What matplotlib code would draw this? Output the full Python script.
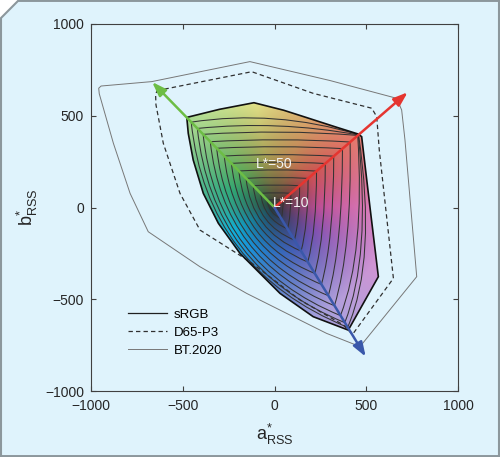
import numpy as np
import matplotlib.pyplot as plt
from matplotlib.path import Path
from matplotlib.patches import PathPatch, Polygon, FancyArrowPatch
from matplotlib.lines import Line2D
from matplotlib.colors import to_rgb

plt.rcParams['font.family'] = ['Liberation Sans', 'DejaVu Sans']
plt.rcParams['mathtext.fontset'] = 'custom'
plt.rcParams['mathtext.rm'] = 'Liberation Sans'
plt.rcParams['mathtext.it'] = 'Liberation Sans'
plt.rcParams['mathtext.default'] = 'regular'

# primaries: direction of each axis (deg) and arrow tips (a*, b*)
prim_angle = {'G': 134.3, 'R': 40.9, 'B': -58.6}
arrow_tip = {'G': (-667, 684), 'R': (726, 628), 'B': (497, -813)}
arrow_color = {'G': '#6dbd45', 'R': '#e53530', 'B': '#3a58aa'}

# sRGB lightness contours: corner radius along each primary
r_G = [57, 108, 166, 222, 278, 336, 392, 451, 501, 557, 602, 650]
r_R = [62, 118, 181, 242, 303, 366, 427, 490, 545, 600, 604, 606]
r_B = [71, 136, 208, 278, 348, 421, 491, 563, 627, 690, 735, 765]
top_bump = [4, 6, 8, 10, 12, 14, 16, 18, 22, 28, 45, 70]
right_bulge = [0, 0, 0, 0, 0, 0, 0, 0, 10, 40, 70, 100]

# gamut outlines
srgb_a = [-478, -300, -112, 50, 175, 330, 457, 475, 520, 566, 402, 211, 30, -188, -306, -388, -443, -470]
srgb_b = [491, 535, 571, 530, 490, 440, 400, 386, 4, -377, -668, -595, -468, -250, -86, 77, 259, 404]
p3_a = [-640, -124, 211, 530, 557, 571, 648, 425, 375, 139, -134, -406, -515, -606, -646, -648]
p3_b = [637, 740, 622, 541, 495, 313, -386, -692, -640, -504, -295, -123, 77, 350, 560, 615]
bt_a = [-945, -669, -134, 302, 666, 693, 711, 775, 466, 284, -152, -406, -688, -787, -878, -955, -958]
bt_b = [662, 686, 795, 692, 595, 531, 368, -377, -758, -686, -468, -323, -132, 77, 350, 620, 650]

ticks = [-1000, -500, 0, 500, 1000]

# surface colour: hue by angle, darker toward the centre
hue_ang = [-180, -150, -120, -90, -59, -30, 0, 41, 70, 100, 134, 160, 180]
mid_col = ['#30a890', '#10b0d8', '#1a90d8', '#3070c0', '#4858b0', '#8050b0', '#c05098',
           '#c85050', '#b88050', '#a09850', '#58a858', '#30a878', '#30a890']
out_col = ['#70c8b0', '#40c8f0', '#60b8e8', '#8098d8', '#b0a0dc', '#d094d4', '#e48cc4',
           '#e88070', '#e8b878', '#ecec90', '#a8d890', '#80cca0', '#70c8b0']
dark = np.array(to_rgb('#283030'))
r_mid, r_out = 250, 620

bg = '#dff3fc'

fig = plt.figure(figsize=(5, 4.57), dpi=100)
fig.patch.set_facecolor('white')
frame = Polygon([(0.002, 0.9606), (0.036, 0.998), (0.998, 0.998), (0.998, 0.002), (0.002, 0.002)],
                closed=True, transform=fig.transFigure, facecolor=bg, edgecolor='#8c979c',
                lw=1.5, zorder=-1)
fig.add_artist(frame)

ax = fig.add_axes([0.182, 0.1444, 0.734, 0.8031])
ax.set_facecolor('none')


def corner(name, r):
    t = np.deg2rad(prim_angle[name])
    return np.array([r * np.cos(t), r * np.sin(t)])


# coloured surface clipped to the sRGB outline
ga = np.linspace(-700, 700, 500)
gb = np.linspace(-800, 700, 540)
A, B = np.meshgrid(ga, gb)
th = np.degrees(np.arctan2(B, A))
rr = np.hypot(A, B)
img = np.zeros(A.shape + (3,))
mid_rgb = np.array([to_rgb(c) for c in mid_col])
out_rgb = np.array([to_rgb(c) for c in out_col])
for ch in range(3):
    m = np.interp(th, hue_ang, mid_rgb[:, ch])
    o = np.interp(th, hue_ang, out_rgb[:, ch])
    inner = dark[ch] + (m - dark[ch]) * np.clip(rr / r_mid, 0, 1) ** 0.8
    outer = m + (o - m) * np.clip((rr - r_mid) / (r_out - r_mid), 0, 1)
    img[..., ch] = np.where(rr < r_mid, inner, outer)
outline = Polygon(np.column_stack([srgb_a, srgb_b]), closed=True, facecolor='none',
                  edgecolor='#111111', lw=1.2, zorder=4)
ax.add_patch(outline)
im = ax.imshow(img, extent=[-700, 700, -800, 700], origin='lower', interpolation='bilinear',
               aspect='auto', zorder=1)
im.set_clip_path(outline)

# lightness contours
for k in range(len(r_G)):
    G = corner('G', r_G[k])
    R = corner('R', r_R[k])
    Bc = corner('B', r_B[k])
    c_top = ((G[0] + R[0]) / 2, max(G[1], R[1]) + top_bump[k])
    c_right = (R[0] + right_bulge[k], Bc[1] + 0.35 * (R[1] - Bc[1]))
    c_left = (G[0] + 0.1 * (Bc[0] - G[0]), Bc[1] + 0.28 * (G[1] - Bc[1]))
    verts = [G, c_top, R, c_right, Bc, c_left, G]
    codes = [Path.MOVETO] + [Path.CURVE3] * 6
    ax.add_patch(PathPatch(Path(verts, codes), facecolor='none', edgecolor='#333333',
                           lw=0.75, zorder=3))

# other gamuts
ax.add_patch(Polygon(np.column_stack([p3_a, p3_b]), closed=True, facecolor='none',
                     edgecolor='#303030', lw=0.9, ls=(0, (3.5, 2.5)), zorder=2))
ax.add_patch(Polygon(np.column_stack([bt_a, bt_b]), closed=True, facecolor='none',
                     edgecolor='#777777', lw=0.7, zorder=2))

# primary arrows
for name in ['G', 'R', 'B']:
    ax.add_patch(FancyArrowPatch((0, 0), arrow_tip[name],
                                 arrowstyle='-|>,head_length=8.5,head_width=3',
                                 color=arrow_color[name], lw=1.8, shrinkA=0, shrinkB=0,
                                 zorder=5))

ax.text(-3, 237, 'L*=50', color='#f4f4f4', ha='center', va='center', fontsize=10, zorder=6)
ax.text(93, 25, 'L*=10', color='#f4f4f4', ha='center', va='center', fontsize=10, zorder=6)

handles = [Line2D([], [], color='#202020', lw=0.9),
           Line2D([], [], color='#303030', lw=0.9, ls=(0, (3.5, 2.5))),
           Line2D([], [], color='#777777', lw=0.7)]
ax.legend(handles, ['sRGB', 'D65-P3', 'BT.2020'], loc='upper left',
          bbox_to_anchor=(0.1, 0.225), frameon=False, fontsize=9.5, borderpad=0,
          borderaxespad=0, handlelength=3.0, handletextpad=0.5, labelspacing=0.45)

ax.set_xlim(-1000, 1000)
ax.set_ylim(-1000, 1000)
ax.set_xticks(ticks)
ax.set_yticks(ticks)
ax.tick_params(direction='in', length=3.5, width=0.8, color='#404040', top=True, right=True,
               labelsize=10, labelcolor='#262626')
ax.tick_params(axis='x', pad=6)
ax.tick_params(axis='y', pad=5)
for sp in ax.spines.values():
    sp.set_color('#404040')
    sp.set_linewidth(0.8)

ax.text(0.5, -0.117, r'$a^{*}_{RSS}$', transform=ax.transAxes, ha='center', va='center',
        fontsize=13, color='#262626')
ax.text(-0.174, 0.5, r'$b^{*}_{RSS}$', transform=ax.transAxes, ha='center', va='center',
        fontsize=13, color='#262626', rotation=90)

fig.savefig('out.png', dpi=100, facecolor=fig.get_facecolor())
